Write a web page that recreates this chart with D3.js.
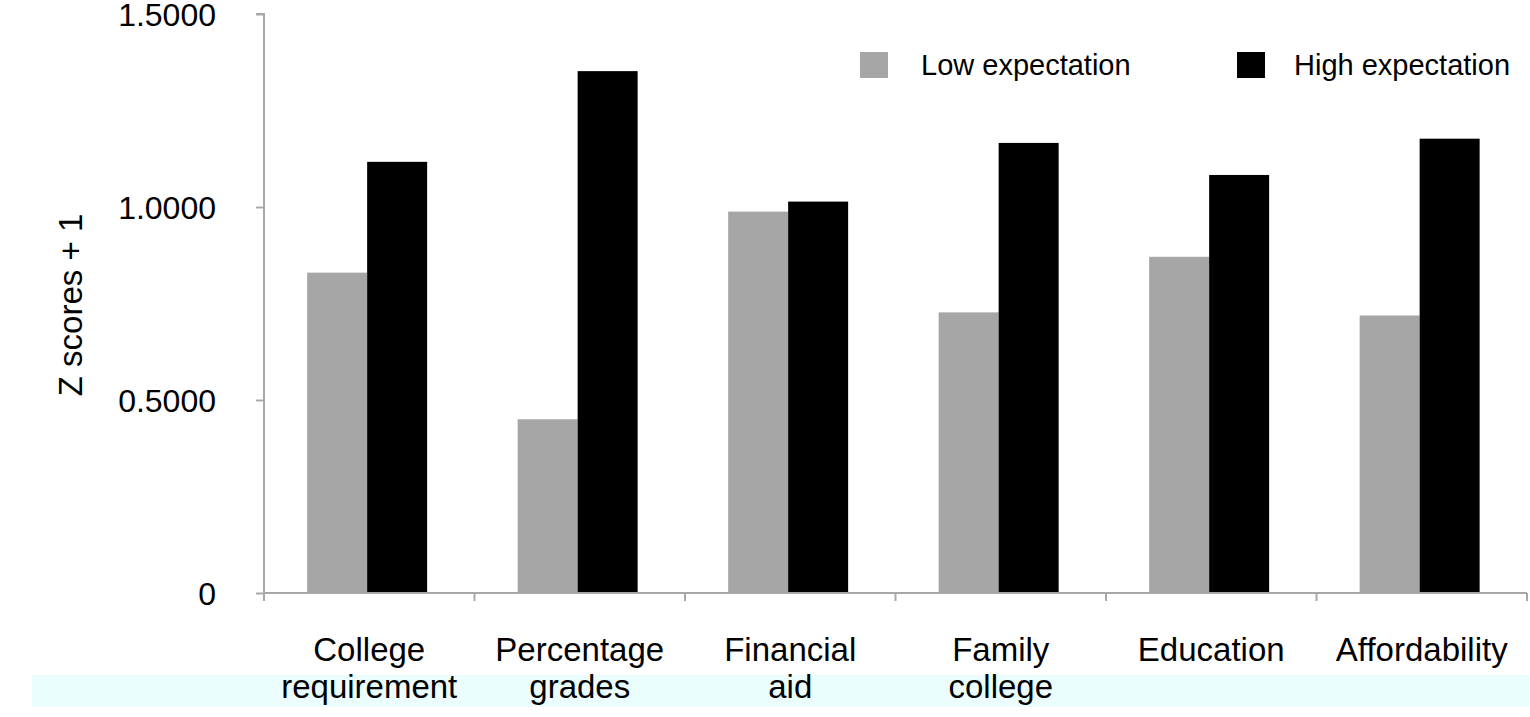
<!DOCTYPE html>
<html>
<head>
<meta charset="utf-8">
<script src="https://cdn.jsdelivr.net/npm/d3@7"></script>
<style>
  body { margin: 0; background: #fff; }
  text { font-family: "Liberation Sans", Arial, sans-serif; fill: #000; }
</style>
</head>
<body>
<div id="chart"></div>
<script>
// Data
const categories = [
  ["College", "requirement"],
  ["Percentage", "grades"],
  ["Financial", "aid"],
  ["Family", "college"],
  ["Education"],
  ["Affordability"]
];
const series = ["Low expectation", "High expectation"];
const lowValues = [0.830, 0.450, 0.988, 0.727, 0.871, 0.719];
const highValues = [1.117, 1.352, 1.014, 1.166, 1.083, 1.177];
const yTicks = [0, 0.5, 1.0, 1.5];
const colors = ["#a6a6a6", "#000000"];

const W = 1530, H = 717;
const margin = {top: 14, right: 3, bottom: 124, left: 264};

const svg = d3.select("#chart")
  .append("svg")
  .attr("width", W)
  .attr("height", H);

// light band behind the lower labels
svg.append("rect")
  .attr("x", 32).attr("y", 675)
  .attr("width", W - 32).attr("height", 32)
  .attr("fill", "#ebfdfd");

const keys = categories.map(c => c.join(" "));
const rows = keys.map((k, i) => ({key: k, lines: categories[i], values: [lowValues[i], highValues[i]]}));

// Scales
const x0 = d3.scaleBand()
  .domain(keys)
  .range([margin.left, W - margin.right]);
const bw = x0.bandwidth();
const x1 = d3.scaleBand()
  .domain(series)
  .range([bw * 0.205, bw * 0.775]);
const y = d3.scaleLinear()
  .domain([0, 1.5])
  .range([H - margin.bottom, margin.top]);

// Bars
const groups = svg.append("g")
  .selectAll("g")
  .data(rows)
  .join("g")
  .attr("transform", d => `translate(${x0(d.key)},0)`);

groups.selectAll("rect")
  .data(d => d.values.map((v, i) => ({s: series[i], v, i})))
  .join("rect")
  .attr("x", d => x1(d.s))
  .attr("width", x1.bandwidth())
  .attr("y", d => y(d.v))
  .attr("height", d => y(0) - y(d.v))
  .attr("fill", d => colors[d.i]);

// Y axis
const yAxis = svg.append("g")
  .attr("transform", `translate(${margin.left},0)`)
  .call(d3.axisLeft(y).tickValues(yTicks).tickSize(8).tickPadding(40)
    .tickFormat(d => d === 0 ? "0" : d3.format(".4f")(d)));
yAxis.selectAll("path, line").attr("stroke", "#a8a8a8").attr("stroke-width", 2);
yAxis.select(".domain").attr("d", `M-8,${y(1.5)}H0V${y(0)}`);
yAxis.selectAll("text").style("font-size", "32px").attr("font-family", null).attr("dy", "0.36em");

// X axis with ticks at category boundaries
const xAxisG = svg.append("g")
  .attr("transform", `translate(0,${y(0)})`);
xAxisG.append("line")
  .attr("x1", margin.left).attr("x2", W - margin.right)
  .attr("stroke", "#a8a8a8").attr("stroke-width", 2);
xAxisG.selectAll("line.tick")
  .data(keys.concat(["end"]))
  .join("line")
  .attr("class", "tick")
  .attr("x1", (d, i) => margin.left + i * bw)
  .attr("x2", (d, i) => margin.left + i * bw)
  .attr("y1", 0).attr("y2", 8)
  .attr("stroke", "#a8a8a8").attr("stroke-width", 2);

// Category labels
const labels = svg.append("g")
  .selectAll("text")
  .data(rows)
  .join("text")
  .attr("x", d => x0(d.key) + bw / 2)
  .attr("y", 661)
  .attr("text-anchor", "middle")
  .style("font-size", "33px");
labels.selectAll("tspan")
  .data(d => d.lines)
  .join("tspan")
  .attr("x", function() { return this.parentNode.getAttribute("x"); })
  .attr("dy", (d, i) => i === 0 ? 0 : 37)
  .text(d => d);

// Y axis title
svg.append("text")
  .attr("transform", "rotate(-90)")
  .attr("x", -305)
  .attr("y", 82)
  .attr("text-anchor", "middle")
  .style("font-size", "33px")
  .text("Z scores + 1");

// Legend
const legendX = [860, 1237];
const legendTextX = [61, 57];
const legend = svg.append("g")
  .selectAll("g")
  .data(series)
  .join("g")
  .attr("transform", (d, i) => `translate(${legendX[i]},52)`);
legend.append("rect")
  .attr("width", 28).attr("height", 26)
  .attr("fill", (d, i) => colors[i]);
legend.append("text")
  .attr("x", (d, i) => legendTextX[i])
  .attr("y", 23)
  .style("font-size", "29px")
  .text(d => d);
</script>
</body>
</html>
